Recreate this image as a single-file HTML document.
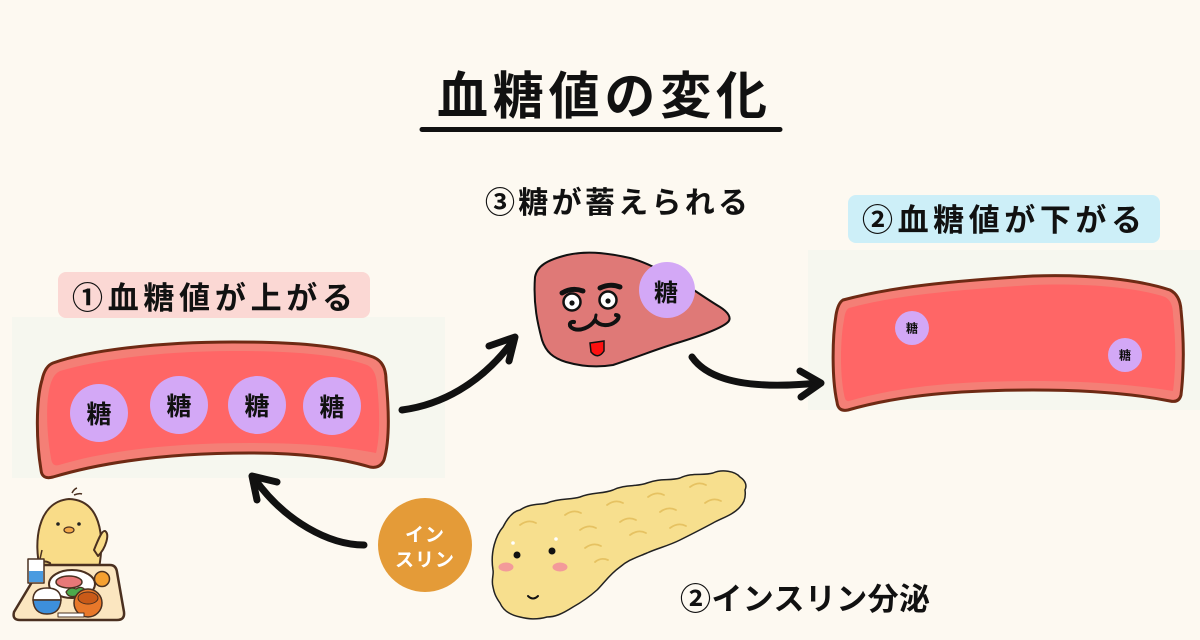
<!DOCTYPE html>
<html><head><meta charset="utf-8"><style>
html,body{margin:0;padding:0;background:#fdf9f1;}
svg{display:block;}
text{font-family:"Liberation Sans","Noto Sans CJK JP",sans-serif;font-weight:700;}
</style></head><body>
<svg width="1200" height="640" viewBox="0 0 1200 640" xmlns="http://www.w3.org/2000/svg">
<rect width="1200" height="640" fill="#fdf9f1"/>

<!-- Title -->
<text x="437" y="114" font-size="51" fill="#111" textLength="330" lengthAdjust="spacing">血糖値の変化</text>
<line x1="422" y1="129.5" x2="780" y2="129.5" stroke="#111" stroke-width="5" stroke-linecap="round"/>

<!-- panels -->
<rect x="12" y="317" width="433" height="161" fill="#f6f7ef"/>
<rect x="808" y="250" width="392" height="160" fill="#f6f7ef"/>

<!-- label 1 -->
<rect x="58" y="272" width="312" height="46" rx="8" fill="#fbd8d4"/>
<text x="72" y="309" font-size="31" fill="#111" textLength="281" lengthAdjust="spacing">①血糖値が上がる</text>

<!-- label 2 -->
<rect x="848" y="195" width="312" height="48" rx="8" fill="#cdeff8"/>
<text x="862" y="231" font-size="31" fill="#111" textLength="280" lengthAdjust="spacing">②血糖値が下がる</text>

<!-- label 3 -->
<text x="485" y="213" font-size="30" fill="#111" textLength="263" lengthAdjust="spacing">③糖が蓄えられる</text>

<!-- label 4 -->
<text x="680" y="610" font-size="31" fill="#111" textLength="250" lengthAdjust="spacing">②インスリン分泌</text>

<!-- left vessel -->
<path d="M53,363 C90,350 160,342 233,342 C290,342 340,345 373,357 Q386,362 386,380 C389,410 390,440 384,460 Q380,469 370,467 C340,458 300,453 250,453 C180,453 110,460 53,477 Q42,480 41,470 C36,440 36,400 42,380 Q45,366 53,363 Z" fill="#f47f76" stroke="#6e2a14" stroke-width="3"/>
<path d="M60,371 C100,359 165,351 233,351 C290,351 336,354 367,365 Q376,369 377,385 C380,410 380,438 376,453 C340,446 300,443 250,443 C180,443 112,449 59,465 Q52,467 51,458 C46,430 46,400 50,386 Q53,374 60,371 Z" fill="#ff6666"/>
<circle cx="99" cy="413" r="29" fill="#d3a8f6"/>
<circle cx="179" cy="405" r="29" fill="#d3a8f6"/>
<circle cx="257" cy="405" r="29" fill="#d3a8f6"/>
<circle cx="332" cy="406" r="29" fill="#d3a8f6"/>
<g font-size="25" fill="#111" text-anchor="middle">
<text x="99" y="423">糖</text>
<text x="179" y="415">糖</text>
<text x="257" y="415">糖</text>
<text x="332" y="416">糖</text>
</g>

<!-- right vessel -->
<path d="M843,300 C880,290 930,282 1033,276 C1090,274 1140,280 1170,290 Q1180,295 1181,310 C1184,340 1184,370 1181,395 Q1179,403 1170,401 C1130,393 1080,390 1033,390 C960,390 900,395 848,410 Q838,412 837,402 C832,380 832,340 836,315 Q838,303 843,300 Z" fill="#f47f76" stroke="#6e2a14" stroke-width="3"/>
<path d="M849,308 C885,298 935,291 1033,285 C1090,283 1138,288 1165,297 Q1173,301 1173,315 C1176,340 1176,368 1173,391 C1130,384 1080,381 1033,381 C960,381 900,386 849,401 Q845,402 844,394 C840,375 840,340 844,320 Q845,310 849,308 Z" fill="#ff6666"/>
<circle cx="912" cy="328" r="17" fill="#d3a8f6"/>
<circle cx="1125" cy="355" r="17" fill="#d3a8f6"/>
<g font-size="12" fill="#111" text-anchor="middle">
<text x="912" y="332.5">糖</text>
<text x="1125" y="359.5">糖</text>
</g>

<!-- liver -->
<path d="M535,277 C537,266 547,260 567,255 C585,251 603,252 630,258 C645,262 660,270 675,278 C690,287 705,298 720,307 C728,312 732,318 728,322 C722,328 700,336 677,343 C660,348 640,356 613,365 C595,368 580,366 566,362 C553,358 546,352 542,340 C538,325 533,305 535,277 Z" fill="#df7977" stroke="#111" stroke-width="2"/>
<circle cx="667" cy="290" r="28" fill="#d3a8f6"/>
<text x="666" y="301" font-size="24" fill="#111" text-anchor="middle">糖</text>
<!-- eyes -->
<circle cx="572" cy="302" r="8.5" fill="#fff" stroke="#111" stroke-width="2.5"/>
<circle cx="608" cy="300" r="8.5" fill="#fff" stroke="#111" stroke-width="2.5"/>
<circle cx="572" cy="303" r="2.6" fill="#111"/>
<circle cx="608" cy="301" r="2.6" fill="#111"/>
<path d="M562,293 Q572,287 583,291" stroke="#111" stroke-width="5" fill="none" stroke-linecap="round"/>
<path d="M600,288 Q610,283 620,287" stroke="#111" stroke-width="5" fill="none" stroke-linecap="round"/>
<!-- mustache -->
<path d="M595,320 C590,328 580,331 574,329 C568,327 569,321 574,322" stroke="#111" stroke-width="4" fill="none" stroke-linecap="round"/>
<path d="M595,320 C600,327 610,326 615,322 C619,319 620,315 616,315" stroke="#111" stroke-width="4" fill="none" stroke-linecap="round"/>
<path d="M595,320 L596,315" stroke="#111" stroke-width="3" stroke-linecap="round"/>
<!-- tongue -->
<path d="M590,343 L604,341 L604,351 Q598,360 591,352 Z" fill="#ff1010" stroke="#111" stroke-width="1.5"/>

<!-- arrows -->
<g stroke="#111" stroke-width="7" fill="none" stroke-linecap="round" stroke-linejoin="round">
<path d="M402,410 C440,405 480,385 513,341"/>
<path d="M489,346 L515,337 L509,361"/>
<path d="M692,357 C708,380 748,390 818,383"/>
<path d="M800,371 L821,383 L801,397"/>
<path d="M364,545 C330,545 285,522 254,478"/>
<path d="M277,482 L252,476 L257,500"/>
</g>

<!-- insulin circle -->
<circle cx="425" cy="545" r="47" fill="#e49b38"/>
<text x="425" y="541" font-size="19" fill="#fff" text-anchor="middle" letter-spacing="1">イン</text>
<text x="425" y="566" font-size="19" fill="#fff" text-anchor="middle" letter-spacing="1">スリン</text>

<!-- pancreas -->
<path d="M493,570 C490,552 496,535 503,527 C508,517 514,511 520,510 C530,503 540,505 547,503 C560,498 570,500 580,497 C592,492 603,494 613,490 C625,484 637,487 647,483 C660,478 670,481 680,478 C692,472 703,476 713,473 C722,469 735,471 740,477 C746,481 747,486 745,490 C746,497 744,503 740,507 C733,515 722,518 713,523 C700,530 690,535 680,540 C668,546 658,548 647,553 C635,558 628,560 620,567 C610,574 604,583 597,590 C588,598 582,602 573,607 C562,614 555,617 547,617 C536,620 528,619 520,617 C510,615 503,610 500,603 C495,596 494,592 493,587 C491,580 494,575 493,570 Z" fill="#f7df8e" stroke="#222" stroke-width="1.5"/>
<g stroke="#e6c262" stroke-width="1.8" fill="none" stroke-linecap="round">
<path d="M520,525 q8,-6 16,-2"/>
<path d="M565,515 q8,-6 16,-2"/>
<path d="M607,505 q8,-6 16,-2"/>
<path d="M648,497 q8,-6 16,-2"/>
<path d="M690,487 q8,-6 16,-2"/>
<path d="M580,530 q8,-6 16,-2"/>
<path d="M620,522 q8,-6 16,-2"/>
<path d="M660,512 q8,-6 16,-2"/>
<path d="M705,503 q8,-6 16,-2"/>
<path d="M585,548 q8,-6 16,-2"/>
<path d="M630,535 q8,-6 16,-2"/>
<path d="M670,528 q8,-6 16,-2"/>
<path d="M595,562 q6,-5 13,-2"/>
</g>
<circle cx="513" cy="543" r="1.8" fill="#fff"/>
<circle cx="556" cy="539" r="1.8" fill="#fff"/>
<circle cx="517" cy="555" r="3.5" fill="#111"/>
<circle cx="552" cy="551" r="3.5" fill="#111"/>
<ellipse cx="506" cy="567" rx="7.5" ry="4.5" fill="#f39a9a"/>
<ellipse cx="560" cy="567" rx="7.5" ry="4.5" fill="#f39a9a"/>
<path d="M528,596 q5,5 10,0" stroke="#111" stroke-width="2" fill="none" stroke-linecap="round"/>

<!-- chick with tray -->
<g stroke="#4a3020" stroke-width="2" stroke-linejoin="round">
<path d="M72,493 q2,-4 5,-5 M74,495 q5,-2 8,-1" fill="none" stroke-width="1.5"/>
<path d="M40,568 C34,545 36,502 69,499 C100,500 105,535 99,568 Z" fill="#f9dc88"/>
<path d="M94,550 C98,540 102,530 105,531 C110,534 106,548 98,556 Z" fill="#f9dc88"/>
<path d="M36,565 q6,-6 14,-2 q2,6 -6,8 Z" fill="#f9dc88"/>
<path d="M45,565 L110,565 Q116,565 117,572 L124,612 Q125,620 117,620 L20,620 Q12,620 14,612 L38,572 Q40,565 45,565 Z" fill="#fbe6c0" stroke-width="2.5"/>
<rect x="28" y="559" width="16" height="24" fill="#fff" stroke-width="1.5"/>
<rect x="29" y="571" width="14" height="11" fill="#4a9be0" stroke="none"/>
<line x1="40" y1="559" x2="42" y2="550" stroke-width="1.5"/>
<ellipse cx="72" cy="584" rx="23" ry="14" fill="#fff"/>
<ellipse cx="69" cy="582" rx="13" ry="6" fill="#e87878" stroke-width="1.5"/>
<path d="M66,592 q4,-6 10,-3 q6,-4 10,2 q-2,6 -10,5 q-8,2 -10,-4 Z" fill="#4caa4c" stroke-width="1.2"/>
<circle cx="102" cy="579" r="7.5" fill="#f5a030" stroke-width="1.5"/>
<path d="M33,600 q0,-12 14,-12 q14,0 14,12 Z" fill="#fff" stroke-width="1.5"/>
<path d="M33,600 L61,600 Q60,614 47,614 Q34,614 33,600 Z" fill="#3d8fdb" stroke-width="1.5"/>
<circle cx="88" cy="603" r="14" fill="#e8782a" stroke-width="1.5"/>
<ellipse cx="88" cy="598" rx="10" ry="6" fill="#c95a18" stroke-width="1"/>
<rect x="58" y="613" width="26" height="4" fill="#fff" stroke-width="1"/>
</g>
<circle cx="58" cy="524" r="1.8" fill="#222"/>
<circle cx="79" cy="524" r="1.8" fill="#222"/>
<ellipse cx="69" cy="530" rx="5" ry="3" fill="#f3a94a" stroke="#4a3020" stroke-width="1.2"/>
</svg>
</body></html>
